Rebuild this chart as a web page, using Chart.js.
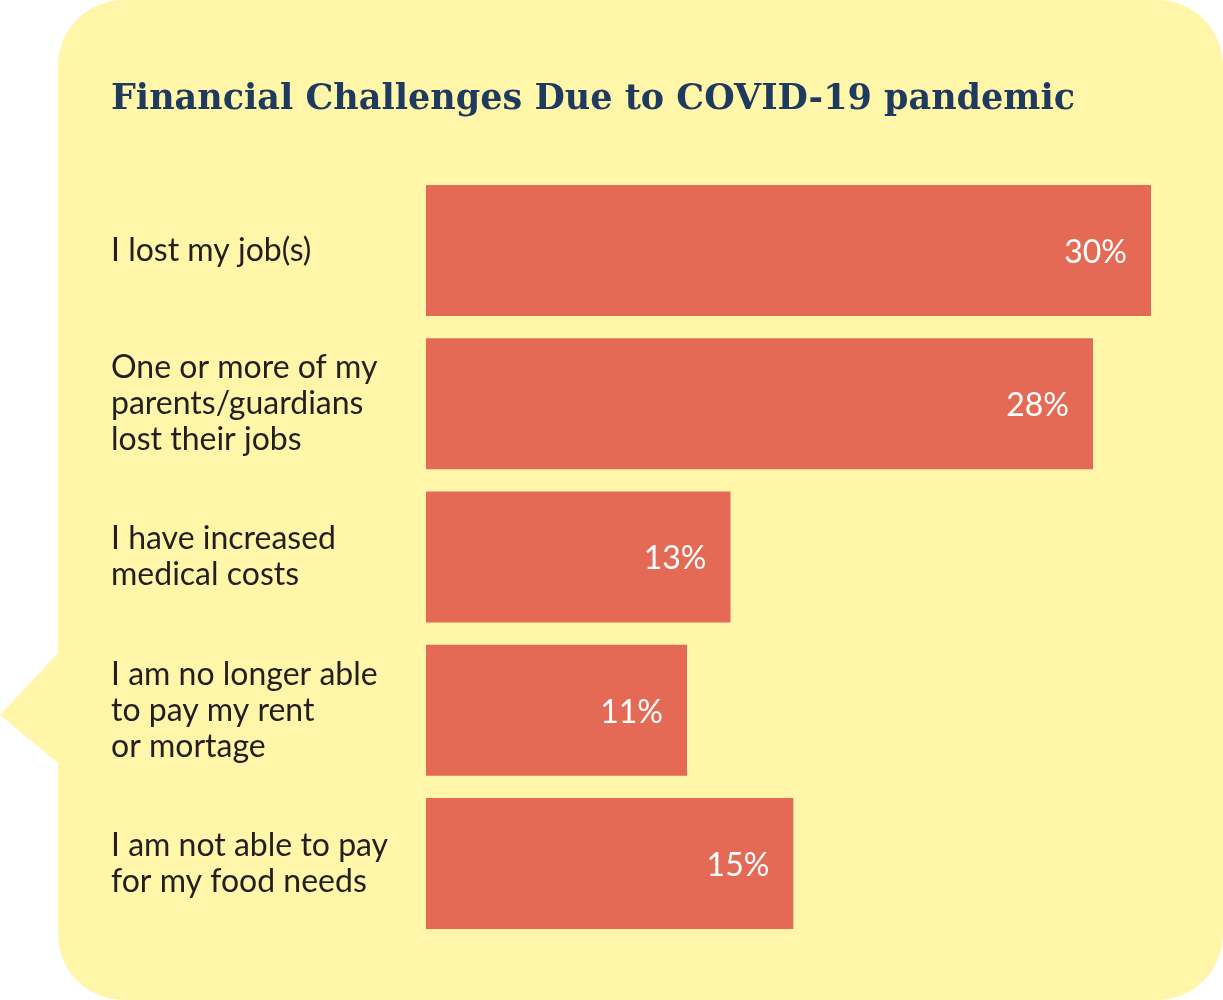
<!DOCTYPE html>
<html>
<head>
<meta charset="utf-8">
<script src="https://cdn.jsdelivr.net/npm/chart.js@4.4.1/dist/chart.umd.min.js"></script>
<style>
  html, body { margin: 0; padding: 0; background: #ffffff; }
  #wrap { width: 1223px; height: 1000px; position: relative; }
</style>
</head>
<body>
<div id="wrap"><canvas id="bar_chart"></canvas></div>
<script>
const categories = [
  ["I lost my job(s)"],
  ["One or more of my", "parents/guardians", "lost their jobs"],
  ["I have increased", "medical costs"],
  ["I am no longer able", "to pay my rent", "or mortage"],
  ["I am not able to pay", "for my food needs"]
];
const values = [30, 27.6, 12.6, 10.8, 15.2];
const valueLabels = ["30%", "28%", "13%", "11%", "15%"];

const yellow = "#FFF6A9";
const barColor = "#E46A55";

// speech bubble behind the chart
const bubble = {
  id: "bubble",
  beforeDraw(chart) {
    const c = chart.ctx;
    const l = 58, t = 0, r = 1223, b = 1000, rad = 66;
    c.save();
    c.fillStyle = yellow;
    c.beginPath();
    c.moveTo(l + rad, t);
    c.lineTo(r - rad, t);
    c.arcTo(r, t, r, t + rad, rad);
    c.lineTo(r, b - rad);
    c.arcTo(r, b, r - rad, b, rad);
    c.lineTo(l + rad, b);
    c.arcTo(l, b, l, b - rad, rad);
    c.lineTo(l, 763);
    c.lineTo(0, 715);
    c.lineTo(l, 653);
    c.lineTo(l, t + rad);
    c.arcTo(l, t, l + rad, t, rad);
    c.closePath();
    c.fill();
    c.restore();
  }
};

// value labels inside bar ends
const barLabels = {
  id: "barLabels",
  afterDatasetsDraw(chart) {
    const c = chart.ctx;
    const meta = chart.getDatasetMeta(0);
    c.save();
    c.fillStyle = "#ffffff";
    c.font = "32px Lato";
    c.textAlign = "right";
    c.textBaseline = "middle";
    meta.data.forEach((bar, i) => {
      c.fillText(valueLabels[i], bar.x - 24, bar.y + 2);
    });
    c.restore();
  }
};

const ctx = document.getElementById("bar_chart");
new Chart(ctx, {
  type: "bar",
  data: {
    labels: categories,
    datasets: [
      {
        data: values,
        backgroundColor: barColor,
        barPercentage: 0.855,
        categoryPercentage: 1,
      },
    ],
  },
  options: {
    indexAxis: "y",
    responsive: true,
    maintainAspectRatio: false,
    animation: false,
    layout: { padding: { left: 111, right: 72, top: 0, bottom: 60 } },
    plugins: {
      legend: { display: false },
      tooltip: { enabled: false },
      title: {
        display: true,
        text: "Financial Challenges Due to COVID-19 pandemic",
        align: "start",
        color: "#1E3A5F",
        font: { family: "DejaVu Serif", size: 35, weight: "bold" },
        padding: { top: 79, bottom: 53 },
      },
    },
    scales: {
      x: {
        display: false,
        min: 0,
        max: 30,
      },
      y: {
        grid: { display: false },
        border: { display: false },
        ticks: {
          crossAlign: "far",
          color: "#231F20",
          font: { family: "Lato", size: 32, lineHeight: 1.125 },
        },
        afterFit(scale) {
          scale.width = 315;
        },
      },
    },
  },
  plugins: [bubble, barLabels],
});
</script>
</body>
</html>
